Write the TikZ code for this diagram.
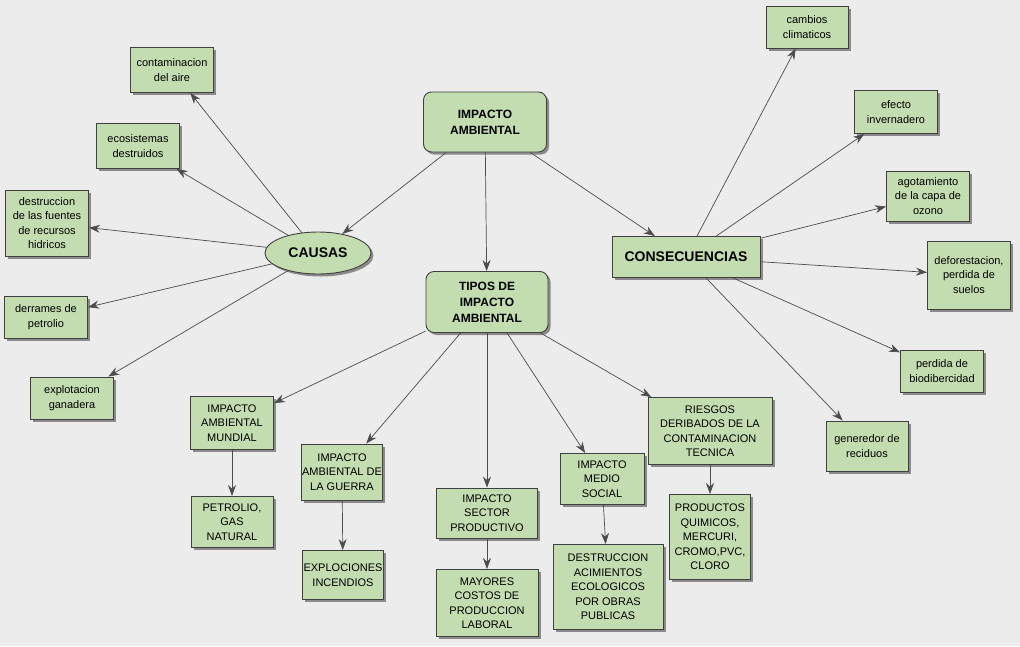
\documentclass[tikz,border=0pt]{standalone}
\usepackage{fontspec}
\setmainfont{Liberation Sans}
\usetikzlibrary{shadows,arrows.meta,shapes.geometric}
\definecolor{bx}{HTML}{C4DDB0}
\definecolor{bg}{HTML}{ECECEC}
\begin{document}
\begin{tikzpicture}[x=1pt,y=-1pt,
 box/.style={draw=black!75,fill=bx,line width=0.9pt,align=center,inner sep=1pt,
   drop shadow={shadow xshift=2.5pt,shadow yshift=-2.5pt,fill=black!55,opacity=0.8},
   font=\fontsize{11}{14.5}\selectfont},
 bbox/.style={box,font=\fontsize{12}{16}\selectfont\bfseries},
 ar/.style={-{Stealth[length=11pt,width=8pt]},draw=black!70,line width=0.7pt}]
\fill[bg] (0,0) rectangle (1020,646);
\useasboundingbox (0,0) rectangle (1020,646);
\def\B#1#2#3#4#5{\node[box,minimum width=#3,minimum height=#4] (#1) at #2 {#5};}
\node[bbox,rounded corners=8pt,minimum width=123,minimum height=60] (ia) at (485,122) {IMPACTO\\AMBIENTAL};
\node[bbox,rounded corners=8pt,minimum width=122,minimum height=61] (tip) at (487,302) {TIPOS DE\\IMPACTO\\AMBIENTAL};
\node[bbox,ellipse,font=\fontsize{14}{16}\selectfont\bfseries,minimum width=106,minimum height=42] (cau) at (318,253) {CAUSAS};
\node[bbox,font=\fontsize{14}{16}\selectfont\bfseries,minimum width=148,minimum height=41] (con) at (686,257) {CONSECUENCIAS};
\B{c1}{(172,70)}{83}{45}{contaminacion\\del aire}
\B{c2}{(138,146)}{83}{45}{ecosistemas\\destruidos}
\B{c3}{(47,223)}{83}{66}{destruccion\\de las fuentes\\de recursos\\hidricos}
\B{c4}{(46,317)}{83}{42}{derrames de\\petrolio}
\B{c5}{(72,398)}{83}{42}{explotacion\\ganadera}
\B{k1}{(807,27)}{82}{42}{cambios\\climaticos}
\B{k2}{(896,112)}{83}{43}{efecto\\invernadero}
\B{k3}{(928,196)}{83}{50}{agotamiento\\de la capa de\\ozono}
\B{k4}{(969,275)}{83}{68}{deforestacion,\\perdida de\\suelos}
\B{k5}{(942,371)}{83}{42}{perdida de\\biodibercidad}
\B{k6}{(867,446)}{82}{50}{generedor de\\reciduos}
\B{t1}{(232,423)}{83}{53}{IMPACTO\\AMBIENTAL\\MUNDIAL}
\B{s1}{(232,522)}{82}{51}{PETROLIO,\\GAS\\NATURAL}
\B{t2}{(342,472)}{75}{56}{IMPACTO\\AMBIENTAL DE\\LA GUERRA}
\B{s2}{(343,575)}{80}{49}{EXPLOCIONES\\INCENDIOS}
\B{t3}{(487,513)}{101}{50}{IMPACTO\\SECTOR\\PRODUCTIVO}
\B{s3}{(487,603)}{102}{67}{MAYORES\\COSTOS DE\\PRODUCCION\\LABORAL}
\B{t4}{(602,479)}{84}{51}{IMPACTO\\MEDIO\\SOCIAL}
\B{s4}{(608,587)}{110}{85}{DESTRUCCION\\ACIMIENTOS\\ECOLOGICOS\\POR OBRAS\\PUBLICAS}
\B{t5}{(710,431)}{124}{67}{RIESGOS\\DERIBADOS DE LA\\CONTAMINACION\\TECNICA}
\B{s5}{(710,537)}{81}{85}{PRODUCTOS\\QUIMICOS,\\MERCURI,\\CROMO,PVC,\\CLORO}
\draw[ar] (ia) -- (cau);
\draw[ar] (ia) -- (tip);
\draw[ar] (ia) -- (con);
\foreach \n in {c1,c2,c3,c4,c5}{\draw[ar] (cau) -- (\n);}
\foreach \n in {k1,k2,k3,k4,k5,k6}{\draw[ar] (con) -- (\n);}
\foreach \n in {1,...,5}{\draw[ar] (tip) -- (t\n); \draw[ar] (t\n) -- (s\n);}
\end{tikzpicture}
\end{document}
